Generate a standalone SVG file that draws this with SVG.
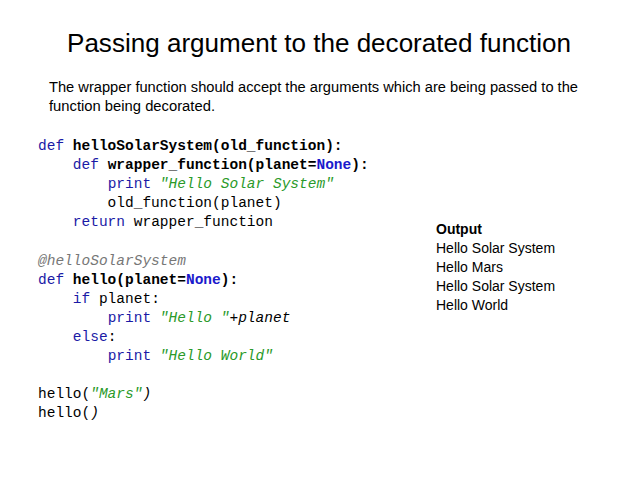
<svg xmlns="http://www.w3.org/2000/svg" width="638" height="478" viewBox="0 0 638 478">
<style>
.t{font-family:"Liberation Sans",Arial,sans-serif;fill:#000}
.c{font-family:"Liberation Mono","DejaVu Sans Mono",monospace;font-size:14.5px;fill:#000;white-space:pre}
.k{fill:#1a1aa6}.n{fill:#1a1acc;font-weight:bold}.s{fill:#2a9a2a;font-style:italic}.i{font-style:italic}.b{font-weight:bold}.g{fill:#777;font-style:italic}
</style>
<rect width="638" height="478" fill="#fff"/>
<text class="t" x="319" y="52" font-size="25" text-anchor="middle" textLength="504" lengthAdjust="spacingAndGlyphs">Passing argument to the decorated function</text>
<text class="t" font-size="14"><tspan x="49" y="92" textLength="529" lengthAdjust="spacingAndGlyphs">The wrapper function should accept the arguments which are being passed to the</tspan><tspan x="49" y="111" textLength="166" lengthAdjust="spacingAndGlyphs">function being decorated.</tspan></text>
<g id="code">
<text class="c" x="38" y="150"><tspan class="k">def</tspan> <tspan class="b">helloSolarSystem(old_function):</tspan></text>
<text class="c" x="38" y="169">    <tspan class="k">def</tspan> <tspan class="b">wrapper_function(planet=</tspan><tspan class="n">None</tspan><tspan class="b">):</tspan></text>
<text class="c" x="38" y="188">        <tspan class="k">print</tspan> <tspan class="s">"Hello Solar System"</tspan></text>
<text class="c" x="38" y="207">        old_function(planet)</text>
<text class="c" x="38" y="226">    <tspan class="k">return</tspan> wrapper_function</text>
<text class="c g" x="38" y="265">@helloSolarSystem</text>
<text class="c" x="38" y="284"><tspan class="k">def</tspan> <tspan class="b">hello(planet=</tspan><tspan class="n">None</tspan><tspan class="b">):</tspan></text>
<text class="c" x="38" y="303">    <tspan class="k">if</tspan> planet:</text>
<text class="c" x="38" y="322">        <tspan class="k">print</tspan> <tspan class="s">"Hello "</tspan><tspan class="i">+planet</tspan></text>
<text class="c" x="38" y="341">    <tspan class="k">else</tspan>:</text>
<text class="c" x="38" y="360">        <tspan class="k">print</tspan> <tspan class="s">"Hello World"</tspan></text>
<text class="c" x="38" y="398">hello(<tspan class="s">"Mars"</tspan><tspan class="i">)</tspan></text>
<text class="c" x="38" y="417">hello(<tspan class="i">)</tspan></text>
</g>
<g id="output" class="t" font-size="14">
<text x="436" y="234" font-weight="bold">Output</text>
<text x="436" y="253">Hello Solar System</text>
<text x="436" y="272">Hello Mars</text>
<text x="436" y="291">Hello Solar System</text>
<text x="436" y="310">Hello World</text>
</g>
</svg>
